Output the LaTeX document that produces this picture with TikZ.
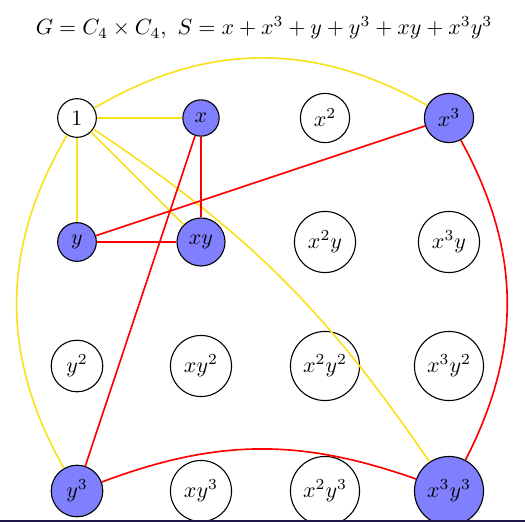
\documentclass[tikz,border=0pt]{standalone}
\definecolor{edgeyellow}{RGB}{250,225,30}
\definecolor{bottomline}{RGB}{30,25,70}
\begin{document}
\begin{tikzpicture}[x=0.4545pt,y=-0.4545pt,
  v/.style={circle,draw=black,line width=0.5pt,fill=white,inner sep=0.3333em},
  s/.style={v,fill=blue!50},
  ye/.style={draw=edgeyellow,line width=0.75pt},
  re/.style={draw=red,line width=0.75pt}]
\useasboundingbox (0,0) rectangle (525,522);
\node (title) at (264,28) {$G=C_4\times C_4,\ S=x+x^3+y+y^3+xy+x^3y^3$};
% grid
\node[v] (e)   at (77,118)  {$1$};
\node[s] (x)   at (201,118) {$x$};
\node[v] (x2)  at (325,118) {$x^2$};
\node[s] (x3)  at (449,118) {$x^3$};
\node[s] (y)   at (77,242)  {$y$};
\node[s] (xy)  at (201,242) {$xy$};
\node[v] (x2y) at (325,242) {$x^2y$};
\node[v] (x3y) at (449,242) {$x^3y$};
\node[v] (y2)  at (77,366)  {$y^2$};
\node[v] (xy2) at (201,366) {$xy^2$};
\node[v] (x2y2) at (325,366) {$x^2y^2$};
\node[v] (x3y2) at (449,366) {$x^3y^2$};
\node[s] (y3)  at (77,491)  {$y^3$};
\node[v] (xy3) at (201,491) {$xy^3$};
\node[v] (x2y3) at (325,491) {$x^2y^3$};
\node[s] (x3y3) at (449,491) {$x^3y^3$};
% edges
\path[ye] (e) -- (x);
\path[ye] (e) -- (y);
\path[ye] (e) -- (xy);
\path[ye] (e) to[bend left=30] (x3);
\path[ye] (e) to[bend right=30] (y3);
\path[ye] (e) to[bend left=11] (x3y3);
\path[re] (x) -- (xy);
\path[re] (y) -- (xy);
\path[re] (x) -- (y3);
\path[re] (x3) -- (y);
\path[re] (x3) to[bend left=28] (x3y3);
\path[re] (y3) to[bend left=20] (x3y3);
\draw[bottomline,line width=1pt] (0,521.5) -- (525,521.5);
\end{tikzpicture}
\end{document}
